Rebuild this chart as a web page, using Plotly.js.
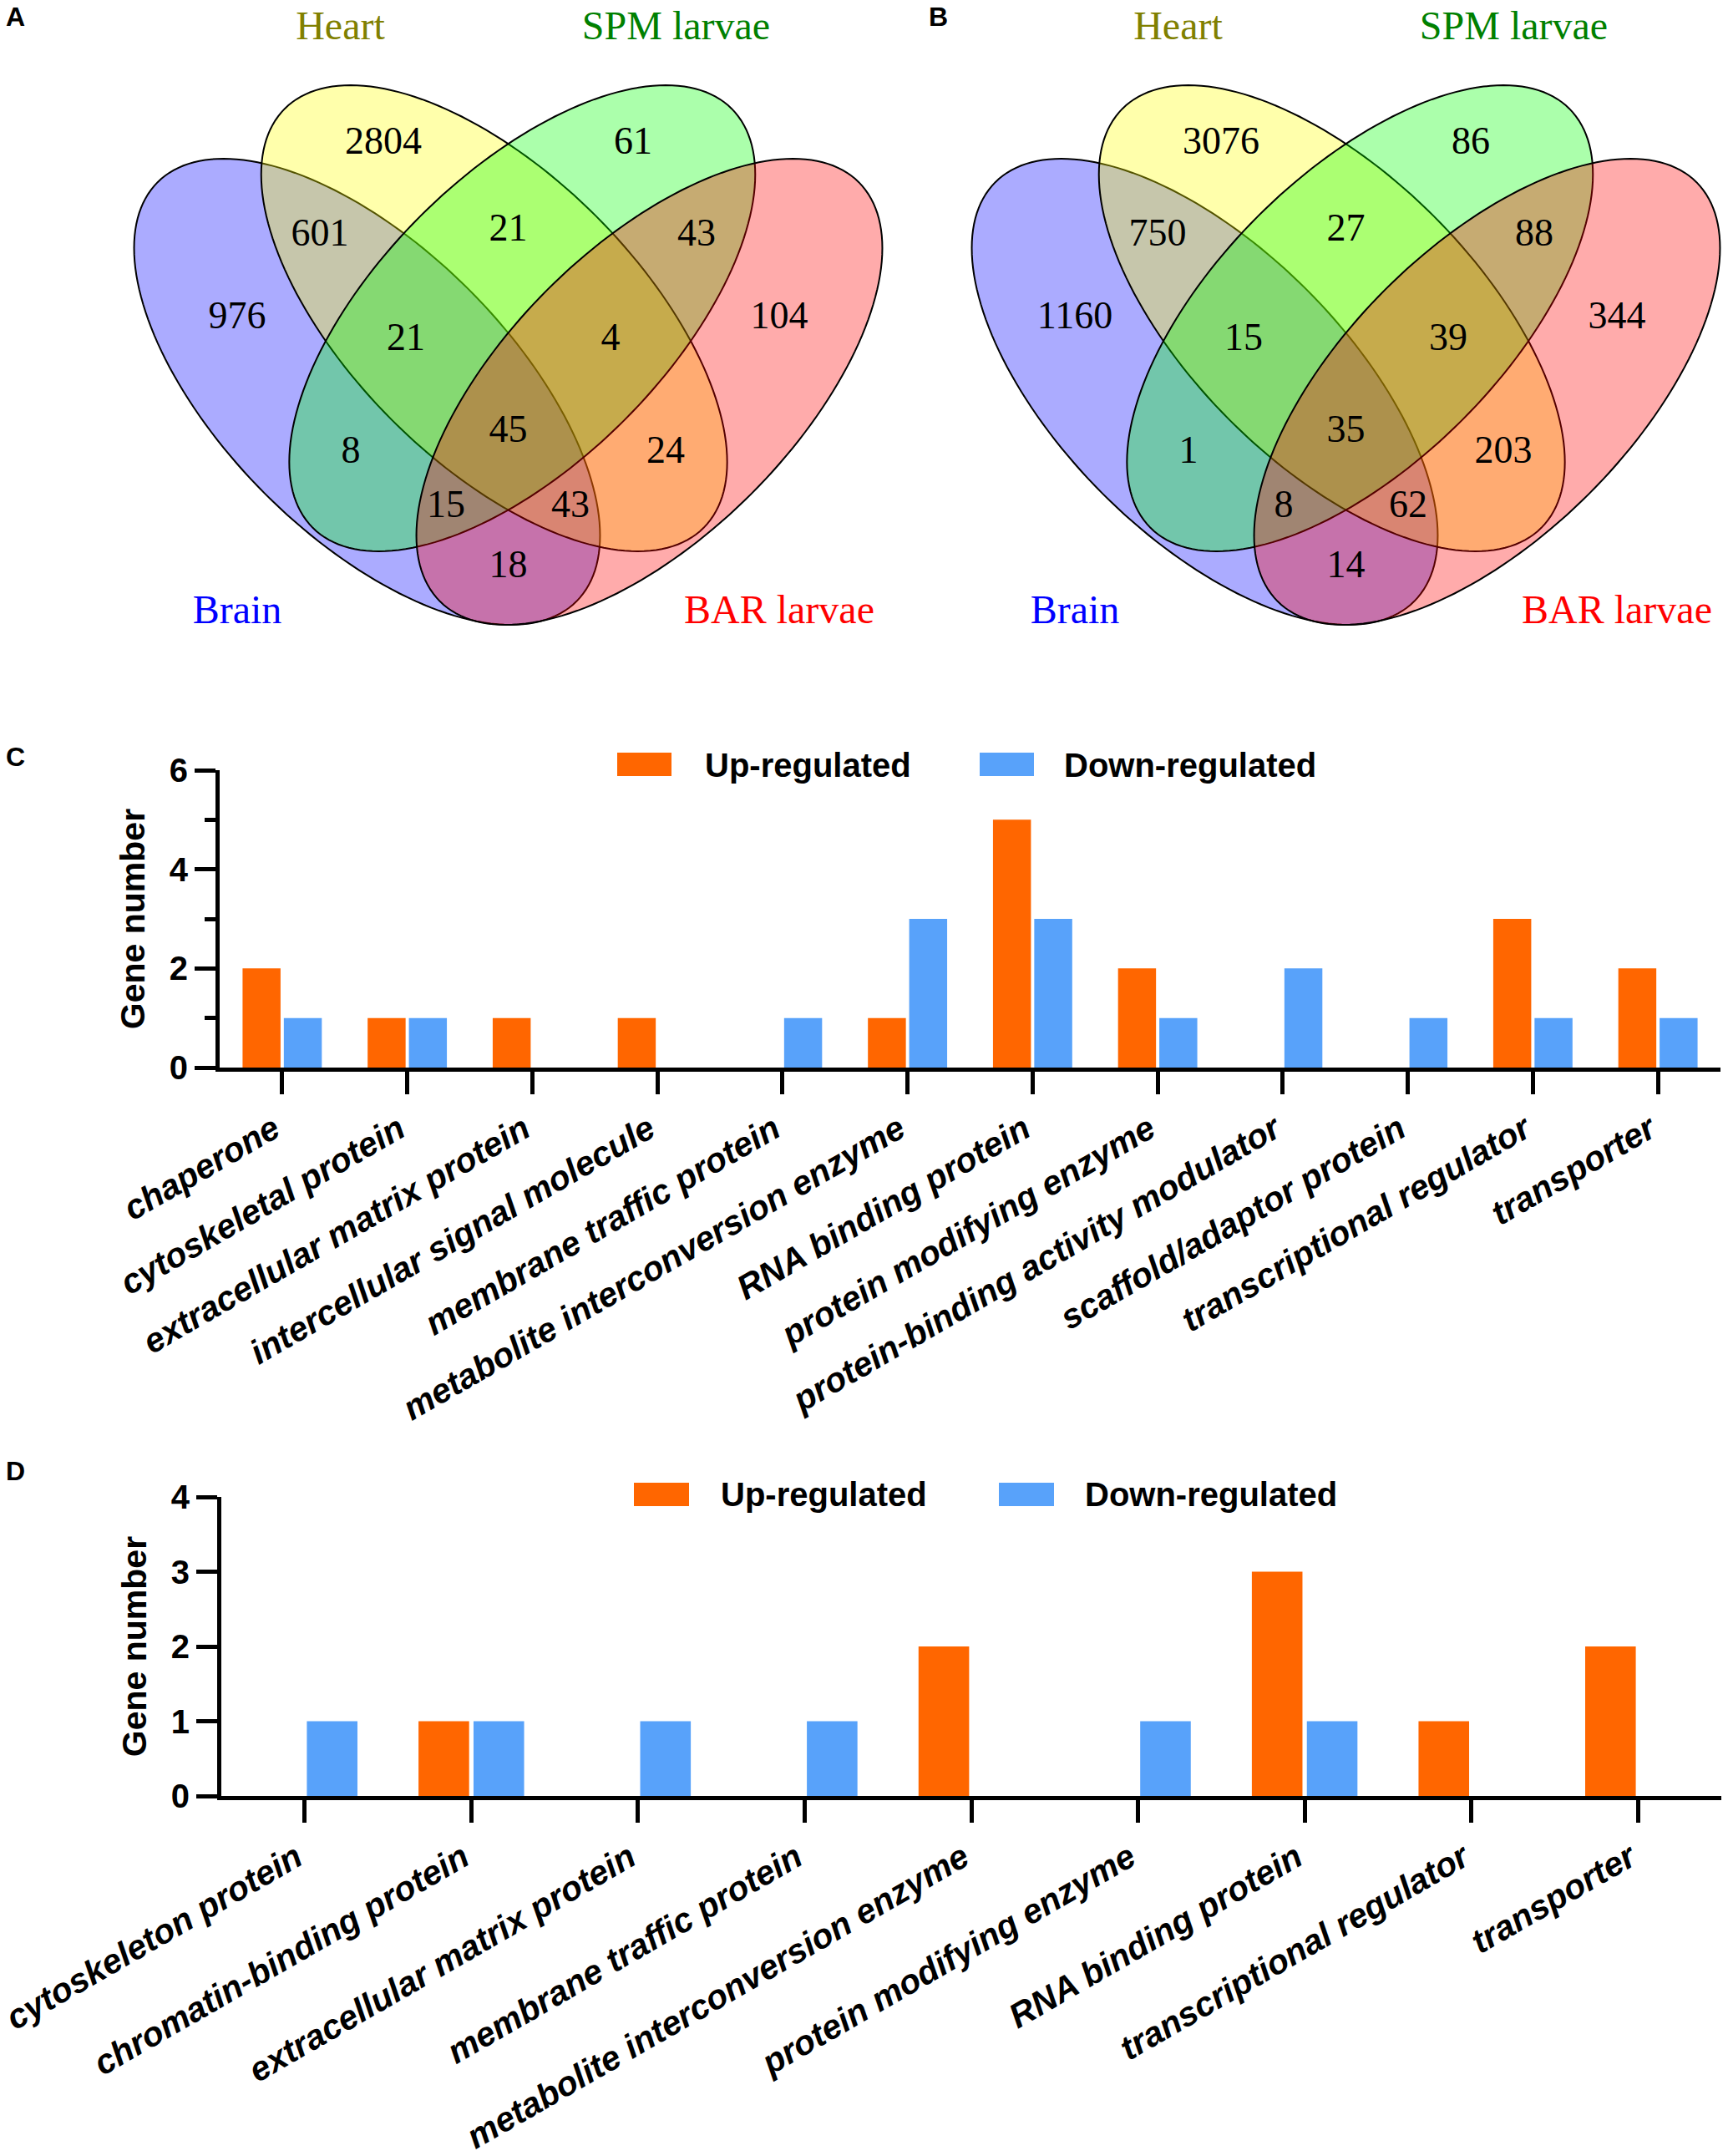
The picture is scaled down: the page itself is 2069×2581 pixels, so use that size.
<!DOCTYPE html>
<html><head><meta charset="utf-8">
<script src="https://cdn.plot.ly/plotly-3.0.1.min.js"></script>
<style>html,body{margin:0;padding:0;background:#fff}</style>
</head><body><div id="chart" style="width:2069px;height:2581px"></div>
<script>
// ---------- DATA ----------
const setNames = ['Brain', 'Heart', 'SPM larvae', 'BAR larvae'];
const setColors = ['#0000FF', '#808000', '#008000', '#FF0000'];
const setFills = ['rgba(0,0,255,0.33)', 'rgba(255,255,0,0.33)', 'rgba(0,255,0,0.33)', 'rgba(255,0,0,0.33)'];
// region order: Heart only, SPM only, Brain&Heart, Heart&SPM, SPM&BAR, Brain only,
// Brain&Heart&SPM, Heart&SPM&BAR, BAR only, Brain&SPM, all four, Heart&BAR,
// Brain&SPM&BAR, Brain&Heart&BAR, Brain&BAR
const vennCountsA = [2804, 61, 601, 21, 43, 976, 21, 4, 104, 8, 45, 24, 15, 43, 18];
const vennCountsB = [3076, 86, 750, 27, 88, 1160, 15, 39, 344, 1, 35, 203, 8, 62, 14];

const categoriesC = ['chaperone', 'cytoskeletal protein', 'extracellular matrix protein',
  'intercellular signal molecule', 'membrane traffic protein', 'metabolite interconversion enzyme',
  'RNA binding protein', 'protein modifying enzyme', 'protein-binding activity modulator',
  'scaffold/adaptor protein', 'transcriptional regulator', 'transporter'];
const upC = [2, 1, 1, 1, 0, 1, 5, 2, 0, 0, 3, 2];
const downC = [1, 1, 0, 0, 1, 3, 3, 1, 2, 1, 1, 1];

const categoriesD = ['cytoskeleton protein', 'chromatin-binding protein', 'extracellular matrix protein',
  'membrane traffic protein', 'metabolite interconversion enzyme', 'protein modifying enzyme',
  'RNA binding protein', 'transcriptional regulator', 'transporter'];
const upD = [0, 1, 0, 0, 2, 0, 3, 1, 2];
const downD = [1, 1, 1, 1, 0, 1, 1, 0, 0];

const seriesNames = ['Up-regulated', 'Down-regulated'];
const seriesColors = ['#FF6600', '#58A2FA'];

// ---------- LAYOUT GEOMETRY (not data) ----------
const W = 2069, H = 2581;
const PX = x => x / W;
const PY = y => 1 - y / H;
// Venn drawing space (pixel-like units, y downward): [cx, cy, a, b, angleDeg]
const ellipses = [[439.5, 469, 354.7, 172.7, 45], [591.7, 381, 354.7, 172.7, 45],
                  [625.3, 381, 354.7, 172.7, 135], [777.5, 469, 354.7, 172.7, 135]];
const regionX = [459, 758, 383, 608.5, 834, 284, 486, 731, 933, 420, 608.5, 797, 534, 683, 608.5];
const regionY = [172, 172, 282, 276, 282, 381, 407, 407, 381, 542, 517, 542, 607, 607, 679];
const labelX = [284, 407.5, 809.5, 933];
const labelY = [734, 35, 35, 734];

function ellipsePath(e) {
  const [cx, cy, a, b, deg] = e;
  const th = deg * Math.PI / 180;
  let p = '';
  for (let i = 0; i <= 180; i++) {
    const t = 2 * Math.PI * i / 180;
    const x = cx + a * Math.cos(t) * Math.cos(th) - b * Math.sin(t) * Math.sin(th);
    const y = cy + a * Math.cos(t) * Math.sin(th) + b * Math.sin(t) * Math.cos(th);
    p += (i === 0 ? 'M' : 'L') + x.toFixed(2) + ',' + y.toFixed(2);
  }
  return p + 'Z';
}

const traces = [];
const shapes = [];
const annotations = [];

// Venn panels
[[vennCountsA, 'x3', 'y3'], [vennCountsB, 'x4', 'y4']].forEach(([counts, xa, ya]) => {
  ellipses.forEach((e, i) => {
    shapes.push({type: 'path', path: ellipsePath(e), xref: xa, yref: ya,
      fillcolor: setFills[i], line: {color: '#000', width: 2}, layer: 'below'});
  });
  traces.push({type: 'scatter', mode: 'text', x: regionX, y: regionY, xaxis: xa, yaxis: ya,
    text: counts.map(String), textposition: 'middle center', cliponaxis: false,
    textfont: {family: 'Liberation Serif', size: 46, color: '#000'}, hoverinfo: 'skip', showlegend: false});
  traces.push({type: 'scatter', mode: 'text', x: labelX, y: labelY, xaxis: xa, yaxis: ya,
    text: setNames, textposition: 'middle center', cliponaxis: false,
    textfont: {family: 'Liberation Serif', size: 48, color: setColors}, hoverinfo: 'skip', showlegend: false});
});

// Bar panels
[[categoriesC, upC, downC, 'x', 'y'], [categoriesD, upD, downD, 'x2', 'y2']].forEach(([cats, up, down, xa, ya]) => {
  [up, down].forEach((vals, k) => {
    traces.push({type: 'bar', x: cats, y: vals, name: seriesNames[k], xaxis: xa, yaxis: ya,
      marker: {color: seriesColors[k], line: {width: 0}}, showlegend: false, hoverinfo: 'skip'});
  });
});

// manual legends
const legendPos = [
  {y0: 901, y1: 929, boxes: [[739, 804], [1173, 1238]], texts: [842, 1272], yc: 916},
  {y0: 1775, y1: 1803, boxes: [[759, 825], [1196, 1262]], texts: [861, 1297], yc: 1789}
];
legendPos.forEach(L => {
  L.boxes.forEach((bx, k) => {
    shapes.push({type: 'rect', xref: 'paper', yref: 'paper', x0: PX(bx[0]), x1: PX(bx[1]),
      y0: PY(L.y1), y1: PY(L.y0), fillcolor: seriesColors[k], line: {width: 0}});
    annotations.push({xref: 'paper', yref: 'paper', x: PX(L.texts[k]), y: PY(L.yc), xanchor: 'left', yanchor: 'middle',
      text: seriesNames[k], showarrow: false, font: {family: 'Liberation Sans', size: 40, weight: 'bold', color: '#000'}});
  });
});

// panel letters
[['A', 5, 20], ['B', 1110, 20], ['C', 5, 906], ['D', 5, 1761]].forEach(([t, x, y]) => {
  annotations.push({xref: 'paper', yref: 'paper', x: PX(x), y: PY(y), xanchor: 'left', yanchor: 'middle',
    text: t, showarrow: false, font: {family: 'Liberation Sans', size: 32, weight: 'bold', color: '#000'}});
});

const tickFontX = {family: 'Liberation Sans', size: 41, weight: 'bold', style: 'italic', color: '#000'};
const tickFontY = {family: 'Liberation Sans', size: 40, weight: 'bold', color: '#000'};
function barX(domain, anchor) {
  return {domain: domain, anchor: anchor, type: 'category', tickangle: -30, tickfont: tickFontX,
    showline: true, linewidth: 5, linecolor: '#000', ticks: 'outside', ticklen: 27, tickwidth: 5,
    tickcolor: '#000', showgrid: false, zeroline: false, fixedrange: true,
    ticklabelstandoff: 2, ticklabelshift: -10};
}
function barY(domain, max, anchor) {
  const ax = {domain: domain, anchor: anchor, range: [0, max], tick0: 0, dtick: max === 6 ? 2 : 1, tickfont: tickFontY,
    showline: true, linewidth: 5, linecolor: '#000', ticks: 'outside', ticklen: 25, tickwidth: 5,
    tickcolor: '#000', showgrid: false, zeroline: false, fixedrange: true,
    title: {text: 'Gene number', standoff: 18, font: {family: 'Liberation Sans', size: 41, weight: 'bold', color: '#000'}}};
  if (max === 6) ax.minor = {dtick: 1, ticks: 'outside', ticklen: 13, tickwidth: 5, tickcolor: '#000', showgrid: false};
  return ax;
}
const hidden = (domain, range, anchor) => ({domain: domain, range: range, anchor: anchor, visible: false, fixedrange: true, showgrid: false, zeroline: false});

const layout = {
  width: W, height: H, margin: {l: 0, r: 0, t: 0, b: 0},
  paper_bgcolor: '#fff', plot_bgcolor: 'rgba(0,0,0,0)', showlegend: false,
  barmode: 'group', bargap: 0.34, bargroupgap: 0.08,
  xaxis: barX([PX(263), PX(2060)], 'y'),
  yaxis: barY([PY(1278), PY(922)], 6, 'x'),
  xaxis2: barX([PX(265), PX(2061)], 'y2'),
  yaxis2: barY([PY(2150), PY(1792)], 4, 'x2'),
  xaxis3: hidden([PX(150), PX(1064)], [150, 1064], 'y3'),
  yaxis3: hidden([PY(800), PY(0)], [800, 0], 'x3'),
  xaxis4: hidden([PX(1153), PX(2067)], [150, 1064], 'y4'),
  yaxis4: hidden([PY(800), PY(0)], [800, 0], 'x4'),
  shapes: shapes, annotations: annotations, hovermode: false
};
Plotly.newPlot('chart', traces, layout, {displayModeBar: false, staticPlot: true});
</script></body></html>
